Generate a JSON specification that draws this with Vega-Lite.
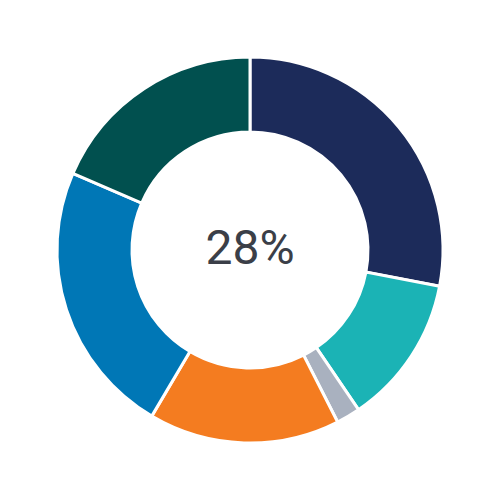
{
  "$schema": "https://vega.github.io/schema/vega-lite/v6.json",
  "width": 500,
  "height": 500,
  "autosize": {"type": "fit", "contains": "padding"},
  "padding": 0,
  "background": "white",
  "config": {"view": {"stroke": null}},
  "layer": [
    {
      "data": {
        "values": [
          {"segment": "A", "share": 28, "rank": 1},
          {"segment": "B", "share": 12.5, "rank": 2},
          {"segment": "C", "share": 2, "rank": 3},
          {"segment": "D", "share": 16, "rank": 4},
          {"segment": "E", "share": 23, "rank": 5},
          {"segment": "F", "share": 18.5, "rank": 6}
        ]
      },
      "mark": {"type": "arc", "radius": 193, "radius2": 118, "stroke": "white", "strokeWidth": 3},
      "encoding": {
        "theta": {"field": "share", "type": "quantitative", "stack": true},
        "order": {"field": "rank", "type": "quantitative"},
        "color": {
          "field": "segment",
          "type": "nominal",
          "scale": {
            "domain": ["A", "B", "C", "D", "E", "F"],
            "range": ["#1c2b5a", "#1bb3b5", "#a9b1bf", "#f47c20", "#0077b6", "#01504f"]
          },
          "legend": null
        }
      }
    },
    {
      "data": {"values": [{"label": "28%"}]},
      "mark": {"type": "text", "font": "Roboto", "fontSize": 48, "color": "#3b3f48", "baseline": "middle", "align": "center"},
      "encoding": {"text": {"field": "label", "type": "nominal"}}
    }
  ]
}
